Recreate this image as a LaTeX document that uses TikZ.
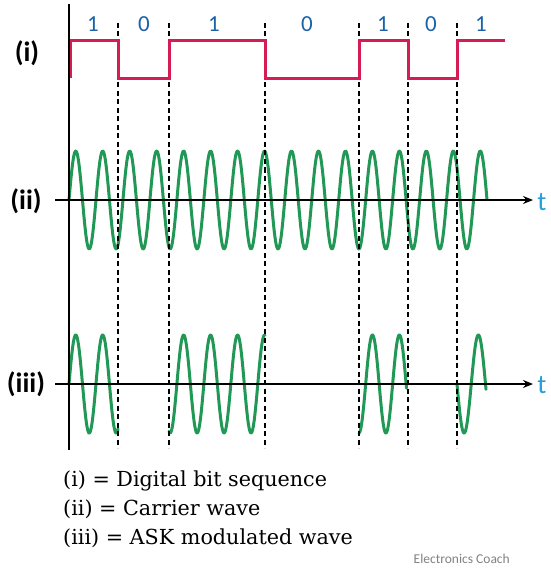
\documentclass[tikz,border=0pt]{standalone}
\usepackage{fontspec}
\setmainfont{DejaVu Serif}
\newfontfamily\calib{Carlito}
\usetikzlibrary{arrows.meta}
\definecolor{sigred}{RGB}{214,28,84}
\definecolor{wavegreen}{RGB}{34,152,86}
\definecolor{bitblue}{RGB}{28,98,168}
\definecolor{tblue}{RGB}{36,160,222}
\definecolor{markgray}{RGB}{130,130,130}
\begin{document}
\begin{tikzpicture}[x=1pt,y=-1pt,
  wave/.style={wavegreen,line width=3pt,line join=round,line cap=round},
  sig/.style={sigred,line width=3pt,line join=miter},
  bound/.style={black,line width=1.3pt,dash pattern=on 5pt off 3.5pt},
  axisline/.style={black,line width=2.3pt},
  taxis/.style={axisline,-{Stealth[length=10pt,width=8pt]}},
  bitlbl/.style={text=bitblue,font=\calib\fontsize{23}{23}\selectfont,inner sep=0pt},
  rowlbl/.style={font=\calib\bfseries\fontsize{28}{28}\selectfont,inner sep=0pt},
  tlbl/.style={text=tblue,font=\calib\fontsize{27}{27}\selectfont,inner sep=0pt},
  legend/.style={anchor=base west,font=\fontsize{20.7}{20.7}\selectfont,inner sep=0pt},
  watermark/.style={anchor=east,text=markgray,font=\calib\fontsize{13.5}{13.5}\selectfont,inner sep=0pt}]
\useasboundingbox (0,0) rectangle (550,572);
\fill[white] (0,0) rectangle (550,572);

% carrier wave (ii)  (period 26.97 -> 13.348 deg per unit)
\draw[wave] plot[domain=69:487,samples=600] (\x,{200-49*sin(13.348*(\x-69))});
% ASK wave (iii)
\foreach \a/\b in {69/118,169/265,359/406.5}
  \draw[wave] plot[domain=\a:\b,samples=150] (\x,{384-49*sin(13.348*(\x-69))});
\draw[wave] plot[domain=457:486,samples=100] (\x,{384+49*sin(12.63*(\x-457))});

% bit boundaries
\foreach \xb [count=\i] in {118,169,265,359,408,457} {
  \coordinate (bt\i) at (\xb,23);
  \coordinate (bb\i) at (\xb,448);
  \draw[bound] (bt\i) -- (bb\i);
}

% digital bit sequence (i)
\draw[sig] (70,78) -- (70,41) -- (118,41) -- (118,79) -- (169,79) -- (169,41)
  -- (265,41) -- (265,79) -- (359,79) -- (359,41) -- (408,41) -- (408,79)
  -- (457,79) -- (457,41) -- (505,41);

% axes
\coordinate (vtop) at (69,4);
\coordinate (vbot) at (69,450);
\draw[axisline] (vtop) -- (vbot);
\coordinate (a2s) at (55,200);
\coordinate (a2e) at (533,200);
\draw[taxis] (a2s) -- (a2e);
\coordinate (a3s) at (55,384);
\coordinate (a3e) at (533,384);
\draw[taxis] (a3s) -- (a3e);

% labels
\node[tlbl] (t2) at (542,202) {t};
\node[tlbl] (t3) at (542,385) {t};
\node[rowlbl] (r1) at (27,53) {(i)};
\node[rowlbl] (r2) at (26,201) {(ii)};
\node[rowlbl] (r3) at (26,384) {(iii)};

\foreach \xl/\bit [count=\i] in {93/1,144/0,214/1,307/0,383/1,431/0,481/1}
  \node[bitlbl] (bit\i) at (\xl,24) {\bit};

\node[legend] (l1) at (63,486) {(i) = Digital bit sequence};
\node[legend] (l2) at (63,515) {(ii) = Carrier wave};
\node[legend] (l3) at (63,544) {(iii) = ASK modulated wave};
\node[watermark] (wm) at (510,559) {Electronics Coach};
\end{tikzpicture}
\end{document}
